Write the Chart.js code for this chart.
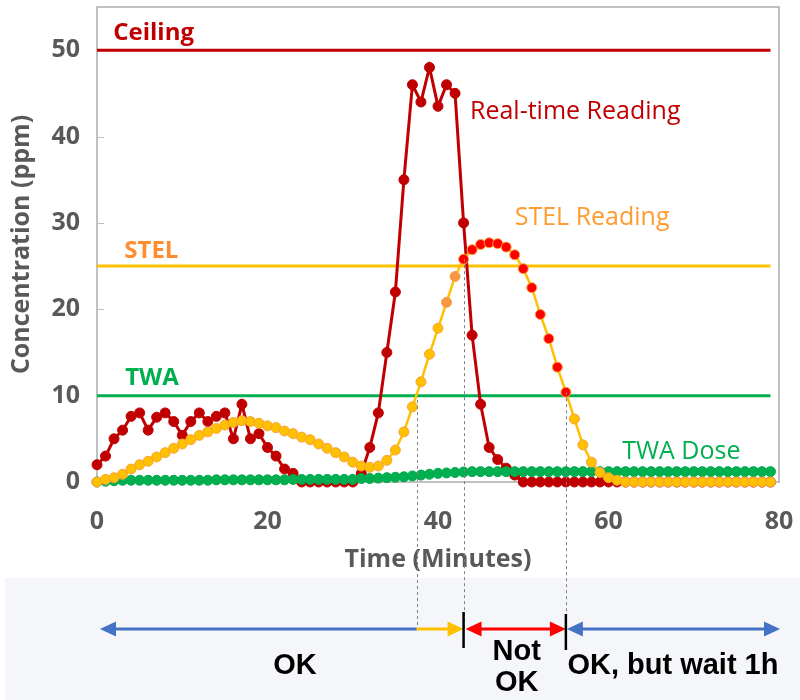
<!DOCTYPE html>
<html><head><meta charset="utf-8">
<script src="https://cdn.jsdelivr.net/npm/chart.js@4.4.1/dist/chart.umd.min.js"></script>
<style>html,body{margin:0;padding:0;background:#fff;}canvas{display:block;}</style>
</head><body>
<canvas id="c" width="800" height="700"></canvas>
<script>
const minutes = [0,1,2,3,4,5,6,7,8,9,10,11,12,13,14,15,16,17,18,19,20,21,22,23,24,25,26,27,28,29,30,31,32,33,34,35,36,37,38,39,40,41,42,43,44,45,46,47,48,49,50,51,52,53,54,55,56,57,58,59,60,61,62,63,64,65,66,67,68,69,70,71,72,73,74,75,76,77,78,79];
const realTime = [2,3,5,6,7.6,8,6,7.5,8,7, 5.4,7,8,7,7.6,8,5,9,5,5.6, 4,3,1.5,1,0,0,0,0,0,0, 0,1,4,8,15,22,35,46,44,48, 43.5,46,45,30,17,9,4,2.6,1.6,0.8, 0,0,0,0,0,0,0,0,0,0, 0,0,0,0,0,0,0,0,0,0, 0,0,0,0,0,0,0,0,0,0];
const stelReading = [0,0.3,0.5,0.9,1.5,2.0,2.4,2.9,3.4,3.9, 4.4,4.9,5.4,5.8,6.2,6.6,6.9,7.1,7.0,6.8, 6.5,6.3,5.9,5.6,5.2,4.9,4.4,3.9,3.4,2.9, 2.3,1.85,1.7,1.85,2.5,3.7,5.8,8.7,11.6,14.8, 17.8,20.8,23.8,25.8,26.9,27.5,27.7,27.6,27.2,26.3, 24.7,22.5,19.4,16.6,13.3,10.4,7.3,4.3,2.3,1.1, 0.5,0.2,0,0,0,0,0,0,0,0, 0,0,0,0,0,0,0,0,0,0];
const twaDose = [0,0.1,0.15,0.2,0.2,0.2,0.2,0.2,0.2,0.2, 0.2,0.2,0.2,0.2,0.25,0.25,0.25,0.25,0.25,0.25, 0.25,0.25,0.25,0.3,0.3,0.3,0.3,0.3,0.3,0.3, 0.3,0.4,0.4,0.45,0.5,0.55,0.6,0.7,0.8,0.9, 1.0,1.05,1.1,1.15,1.2,1.2,1.2,1.2,1.2,1.2, 1.2,1.2,1.2,1.2,1.2,1.2,1.2,1.2,1.2,1.2, 1.2,1.2,1.2,1.2,1.2,1.2,1.2,1.2,1.2,1.2, 1.2,1.2,1.2,1.2,1.2,1.2,1.2,1.2,1.2,1.2];
const limitNames = ['Ceiling','STEL','TWA'];
const limitValues = [50,25,10];
const limitSpan = [0,79];
const yTickValues = [0,10,20,30,40,50];
const zoneMinutes = [37.5,43,55];
const zoneStartValues = [9.5,25.8,10.4];

const C_RED='#C00000', C_ORANGE='#FFC000', C_GREEN='#00B050';
const pts = arr => minutes.map((m,i)=>({x:m,y:arr[i]}));
const stelPointColors = minutes.map((m,i)=> (m>=zoneMinutes[1] && m<=zoneMinutes[2]) ? '#FF0000' : (stelReading[i]>20 ? '#F79646' : C_ORANGE));
const limitColors = [C_RED, C_ORANGE, C_GREEN];
const limitDatasets = limitValues.map((v,k)=>({
  label: limitNames[k], data: limitSpan.map(x=>({x:x,y:v})),
  borderColor: limitColors[k], borderWidth: 3, pointRadius: 0, order: 4, clip: false
}));

Chart.defaults.font.family = "'Open Sans', sans-serif";
const GRAY = '#595959';

const overlay = {
  id: 'overlay',
  beforeDraw(chart){
    const ctx = chart.ctx;
    ctx.save();
    ctx.fillStyle = '#F5F6FA';
    ctx.fillRect(5, 578, 795, 122);
    ctx.restore();
  },
  beforeDatasetsDraw(chart){
    const ctx = chart.ctx, a = chart.chartArea, ys = chart.scales.y;
    ctx.save();
    ctx.strokeStyle = '#ADADAD'; ctx.lineWidth = 1.5;
    ctx.strokeRect(a.left, a.top, a.right - a.left, a.bottom - a.top);
    ctx.strokeStyle = '#BFBFBF'; ctx.lineWidth = 1;
    yTickValues.slice(1).forEach(v => {
      const y = Math.round(ys.getPixelForValue(v)) + 0.5;
      ctx.beginPath(); ctx.moveTo(a.left, y); ctx.lineTo(a.left + 7, y); ctx.stroke();
    });
    ctx.restore();
  },
  afterDatasetsDraw(chart){
    const ctx = chart.ctx, xs = chart.scales.x, ys = chart.scales.y;
    ctx.save();
    ctx.textBaseline = 'middle'; ctx.textAlign = 'left';
    const lbl = (t, x, y, color, bold) => {
      ctx.font = (bold ? 'bold ' : '') + '24px "Open Sans"';
      ctx.fillStyle = color;
      ctx.fillText(t, xs.getPixelForValue(x), ys.getPixelForValue(y));
    };
    lbl(limitNames[0], 1.9, 52.0, C_RED, true);
    lbl(limitNames[1], 3.2, 26.75, '#FF8C2E', true);
    lbl(limitNames[2], 3.3, 12.0, C_GREEN, true);
    ctx.font = '25px "Open Sans"';
    ctx.fillStyle = C_RED; ctx.fillText('Real-time Reading', xs.getPixelForValue(43.75), ys.getPixelForValue(42.8));
    ctx.fillStyle = '#FF9B2F'; ctx.fillText('STEL Reading', xs.getPixelForValue(49.0), ys.getPixelForValue(30.6));
    ctx.fillStyle = C_GREEN; ctx.fillText('TWA Dose', xs.getPixelForValue(61.6), ys.getPixelForValue(3.5));

    const arrowY = 629;
    ctx.strokeStyle = '#808080'; ctx.lineWidth = 1; ctx.setLineDash([3,3]);
    zoneMinutes.forEach((m,i)=>{
      const x = Math.round(xs.getPixelForValue(m)) + 0.5;
      ctx.beginPath(); ctx.moveTo(x, ys.getPixelForValue(zoneStartValues[i])); ctx.lineTo(x, arrowY); ctx.stroke();
    });
    ctx.setLineDash([]);

    const x1 = xs.getPixelForValue(zoneMinutes[0]);
    const x2 = xs.getPixelForValue(zoneMinutes[1]);
    const x3 = xs.getPixelForValue(zoneMinutes[2]);
    const xL = xs.getPixelForValue(0) + 3, xR = xs.getPixelForValue(80) + 1;
    const seg = (a, b, color) => { ctx.strokeStyle = color; ctx.lineWidth = 3; ctx.beginPath(); ctx.moveTo(a, arrowY); ctx.lineTo(b, arrowY); ctx.stroke(); };
    const head = (x, dir, color) => { ctx.fillStyle = color; ctx.beginPath(); ctx.moveTo(x, arrowY); ctx.lineTo(x - dir*16, arrowY - 7.5); ctx.lineTo(x - dir*16, arrowY + 7.5); ctx.closePath(); ctx.fill(); };
    seg(xL + 10, x1, '#4472C4'); head(xL, -1, '#4472C4');
    seg(x1, x2 - 10, C_ORANGE); head(x2, 1, C_ORANGE);
    seg(x2 + 10, x3 - 10, '#FF0000'); head(x2 + 2, -1, '#FF0000'); head(x3, 1, '#FF0000');
    seg(x3 + 10, xR - 10, '#4472C4'); head(x3 + 1, -1, '#4472C4'); head(xR, 1, '#4472C4');
    ctx.strokeStyle = '#000'; ctx.lineWidth = 2.5;
    ctx.beginPath(); ctx.moveTo(x2, 612); ctx.lineTo(x2, 648); ctx.stroke();
    ctx.beginPath(); ctx.moveTo(x3, 614); ctx.lineTo(x3, 650); ctx.stroke();

    ctx.fillStyle = '#000'; ctx.textAlign = 'center'; ctx.textBaseline = 'middle';
    ctx.font = 'bold 29px "Liberation Sans"';
    ctx.fillText('OK', 295, 666);
    ctx.fillText('Not', (x2 + x3)/2 + 2, 652);
    ctx.fillText('OK', (x2 + x3)/2 + 2, 683);
    ctx.fillText('OK, but wait 1h', (x3 + xR)/2, 666);
    ctx.restore();
  }
};

new Chart(document.getElementById('c'), {
  type: 'line',
  data: {
    datasets: [
      { label: 'STEL Reading', data: pts(stelReading), borderColor: C_ORANGE, borderWidth: 2.5,
        pointRadius: 5, pointBackgroundColor: stelPointColors, pointBorderColor: '#F7A23B', pointBorderWidth: 1,
        tension: 0, order: 1, clip: false },
      { label: 'TWA Dose', data: pts(twaDose), borderColor: C_GREEN, borderWidth: 2,
        pointRadius: 5, pointBackgroundColor: C_GREEN, pointBorderColor: '#00A84A', pointBorderWidth: 1,
        tension: 0, order: 2, clip: false },
      { label: 'Real-time Reading', data: pts(realTime), borderColor: C_RED, borderWidth: 3,
        pointRadius: 5, pointBackgroundColor: C_RED, pointBorderColor: C_RED, pointBorderWidth: 1,
        tension: 0, order: 3, clip: false },
      ...limitDatasets
    ]
  },
  options: {
    responsive: false, animation: false,
    layout: { padding: { top: 7, right: 21, bottom: 125, left: 0 } },
    plugins: { legend: { display: false }, tooltip: { enabled: false } },
    scales: {
      x: {
        type: 'linear', min: 0, max: 80,
        grid: { display: false, drawTicks: false }, border: { display: false },
        ticks: { stepSize: 20, color: GRAY, font: { size: 25, weight: 'bold' }, padding: 25 },
        title: { display: true, text: 'Time (Minutes)', color: GRAY, font: { size: 25, weight: 'bold' }, padding: 0 },
        afterFit: s => { s.height = 93; s.paddingLeft = 0; s.paddingRight = 0; }
      },
      y: {
        min: 0, max: 55,
        grid: { display: false, drawTicks: false }, border: { display: false },
        ticks: { stepSize: 10, color: GRAY, font: { size: 25, weight: 'bold' }, padding: 17 },
        afterBuildTicks: s => { s.ticks = yTickValues.map(v => ({ value: v })); },
        title: { display: true, text: 'Concentration (ppm)', color: GRAY, font: { size: 25, weight: 'bold' }, padding: { top: 7, bottom: 0 } },
        afterFit: s => { s.width = 97; s.paddingTop = 0; s.paddingBottom = 0; }
      }
    }
  },
  plugins: [overlay]
});
</script>
</body></html>
